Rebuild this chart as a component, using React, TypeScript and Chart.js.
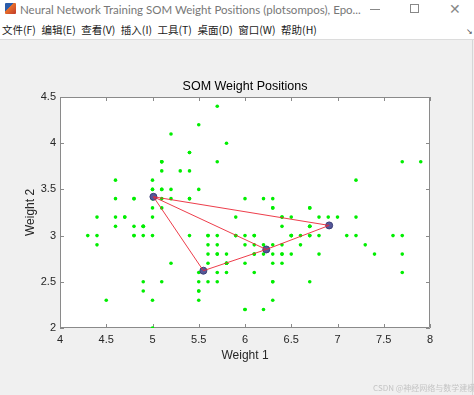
import React, { useEffect, useRef } from "react";
import { Chart, registerables } from "chart.js";

Chart.register(...registerables);

// Input vectors (Weight 1 = sepal length, Weight 2 = sepal width)
const inputW1 = [
  5.1, 4.9, 4.7, 4.6, 5.0, 5.4, 4.6, 5.0, 4.4, 4.9, 5.4, 4.8, 4.8, 4.3, 5.8, 5.7, 5.4, 5.1, 5.7, 5.1,
  5.4, 5.1, 4.6, 5.1, 4.8, 5.0, 5.0, 5.2, 5.2, 4.7, 4.8, 5.4, 5.2, 5.5, 4.9, 5.0, 5.5, 4.9, 4.4, 5.1,
  5.0, 4.5, 4.4, 5.0, 5.1, 4.8, 5.1, 4.6, 5.3, 5.0,
  7.0, 6.4, 6.9, 5.5, 6.5, 5.7, 6.3, 4.9, 6.6, 5.2, 5.0, 5.9, 6.0, 6.1, 5.6, 6.7, 5.6, 5.8, 6.2, 5.6,
  5.9, 6.1, 6.3, 6.1, 6.4, 6.6, 6.8, 6.7, 6.0, 5.7, 5.5, 5.5, 5.8, 6.0, 5.4, 6.0, 6.7, 6.3, 5.6, 5.5,
  5.5, 6.1, 5.8, 5.0, 5.6, 5.7, 5.7, 6.2, 5.1, 5.7,
  6.3, 5.8, 7.1, 6.3, 6.5, 7.6, 4.9, 7.3, 6.7, 7.2, 6.5, 6.4, 6.8, 5.7, 5.8, 6.4, 6.5, 7.7, 7.7, 6.0,
  6.9, 5.6, 7.7, 6.3, 6.7, 7.2, 6.2, 6.1, 6.4, 7.2, 7.4, 7.9, 6.4, 6.3, 6.1, 7.7, 6.3, 6.4, 6.0, 6.9,
  6.7, 6.9, 5.8, 6.8, 6.7, 6.7, 6.3, 6.5, 6.2, 5.9,
];
const inputW2 = [
  3.5, 3.0, 3.2, 3.1, 3.6, 3.9, 3.4, 3.4, 2.9, 3.1, 3.7, 3.4, 3.0, 3.0, 4.0, 4.4, 3.9, 3.5, 3.8, 3.8,
  3.4, 3.7, 3.6, 3.3, 3.4, 3.0, 3.4, 3.5, 3.4, 3.2, 3.1, 3.4, 4.1, 4.2, 3.1, 3.2, 3.5, 3.1, 3.0, 3.4,
  3.5, 2.3, 3.2, 3.5, 3.8, 3.0, 3.8, 3.2, 3.7, 3.3,
  3.2, 3.2, 3.1, 2.3, 2.8, 2.8, 3.3, 2.4, 2.9, 2.7, 2.0, 3.0, 2.2, 2.9, 2.9, 3.1, 3.0, 2.7, 2.2, 2.5,
  3.2, 2.8, 2.5, 2.8, 2.9, 3.0, 2.8, 3.0, 2.9, 2.6, 2.4, 2.4, 2.7, 2.7, 3.0, 3.4, 3.1, 2.3, 3.0, 2.5,
  2.6, 3.0, 2.6, 2.3, 2.7, 3.0, 2.9, 2.9, 2.5, 2.8,
  3.3, 2.7, 3.0, 2.9, 3.0, 3.0, 2.5, 2.9, 2.5, 3.6, 3.2, 2.7, 3.0, 2.5, 2.8, 3.2, 3.0, 3.8, 2.6, 2.2,
  3.2, 2.8, 2.8, 2.7, 3.3, 3.2, 2.8, 3.0, 2.8, 3.0, 2.8, 3.8, 2.8, 2.8, 2.6, 3.0, 3.4, 3.1, 3.0, 3.1,
  3.1, 3.1, 2.7, 3.2, 3.3, 3.0, 2.5, 3.0, 3.4, 3.0,
];

// SOM neuron weights (2x2 hex grid)
const neuronW1 = [5.01, 5.55, 6.23, 6.91];
const neuronW2 = [3.42, 2.62, 2.85, 3.11];
// neighbour connections between neurons
const neuronLinks: [number, number][] = [
  [0, 1],
  [0, 2],
  [0, 3],
  [1, 2],
  [2, 3],
];

const xMin = 4;
const xMax = 8;
const yMin = 2;
const yMax = 4.5;
const tickStep = 0.5;

const chartTitle = "SOM Weight Positions";
const xLabel = "Weight 1";
const yLabel = "Weight 2";
const windowTitle = "Neural Network Training SOM Weight Positions (plotsompos), Epo...";
const menuItems = ["文件(F)", "编辑(E)", "查看(V)", "插入(I)", "工具(T)", "桌面(D)", "窗口(W)", "帮助(H)"];
const watermark = "CSDN @神经网络与数学建模";

const FONT = "'Liberation Sans', Arial, Helvetica, sans-serif";
const AXIS_COLOR = "#8a8a8a";
const TEXT_COLOR = "#262626";

const axesPlugin = {
  id: "matlabAxes",
  beforeDraw(chart: any) {
    const { ctx, chartArea } = chart;
    ctx.save();
    ctx.fillStyle = "#ffffff";
    ctx.fillRect(chartArea.left, chartArea.top, chartArea.right - chartArea.left, chartArea.bottom - chartArea.top);
    ctx.restore();
  },
  beforeDatasetsDraw(chart: any) {
    const { ctx, chartArea, scales } = chart;
    const { left, right, top, bottom } = chartArea;
    ctx.save();
    ctx.strokeStyle = AXIS_COLOR;
    ctx.lineWidth = 1;
    ctx.beginPath();
    ctx.rect(Math.round(left) + 0.5, Math.round(top) + 0.5, Math.round(right - left) - 1, Math.round(bottom - top) - 1);
    ctx.stroke();
    const tl = 4;
    ctx.beginPath();
    scales.x.ticks.forEach((t: any) => {
      const px = Math.round(scales.x.getPixelForValue(t.value)) + 0.5;
      ctx.moveTo(px, bottom);
      ctx.lineTo(px, bottom - tl);
      ctx.moveTo(px, top);
      ctx.lineTo(px, top + tl);
    });
    scales.y.ticks.forEach((t: any) => {
      const py = Math.round(scales.y.getPixelForValue(t.value)) + 0.5;
      ctx.moveTo(left, py);
      ctx.lineTo(left + tl, py);
      ctx.moveTo(right, py);
      ctx.lineTo(right - tl, py);
    });
    ctx.stroke();
    ctx.restore();
  },
  afterDraw(chart: any) {
    const { ctx, chartArea } = chart;
    ctx.save();
    ctx.fillStyle = "#000";
    ctx.font = `12.5px ${FONT}`;
    ctx.textAlign = "center";
    ctx.textBaseline = "middle";
    ctx.fillText(chartTitle, (chartArea.left + chartArea.right) / 2, chartArea.top - 10);
    ctx.restore();
  },
};

const fmt = (v: any) => String(Number(v));

function SomChart() {
  const ref = useRef<HTMLCanvasElement | null>(null);
  useEffect(() => {
    if (!ref.current) return;
    const inputs = inputW1.map((x, i) => ({ x, y: inputW2[i] }));
    const neurons = neuronW1.map((x, i) => ({ x, y: neuronW2[i] }));
    const linkSets = neuronLinks.map(([a, b]) => ({
      type: "line" as const,
      data: [neurons[a], neurons[b]],
      borderColor: "rgba(235,40,55,0.9)",
      borderWidth: 1,
      pointRadius: 0,
      fill: false,
      order: 0,
    }));
    const chart = new Chart(ref.current, {
      type: "scatter",
      data: {
        datasets: [
          ...(linkSets as any[]),
          {
            data: neurons,
            pointRadius: 3.5,
            pointBackgroundColor: "#55589a",
            pointBorderColor: "#3c3f78",
            pointBorderWidth: 1,
            order: 1,
          },
          {
            data: inputs,
            pointRadius: 1.8,
            pointBackgroundColor: "#00ee00",
            pointBorderWidth: 0,
            order: 2,
          },
        ],
      },
      options: {
        animation: false,
        responsive: false,
        devicePixelRatio: 1,
        layout: { padding: { left: 0, right: 44, top: 56, bottom: 0 } },
        plugins: { legend: { display: false }, tooltip: { enabled: false }, title: { display: false } },
        scales: {
          x: {
            type: "linear",
            min: xMin,
            max: xMax,
            grid: { display: false, drawTicks: false },
            border: { display: false },
            ticks: { stepSize: tickStep, padding: 5, color: TEXT_COLOR, font: { family: FONT, size: 11 }, callback: fmt },
            title: { display: true, text: xLabel, color: TEXT_COLOR, font: { family: FONT, size: 12 }, padding: { top: 0, bottom: 32 } },
            afterFit: (s: any) => {
              s.height = 67;
            },
          },
          y: {
            type: "linear",
            min: yMin,
            max: yMax,
            grid: { display: false, drawTicks: false },
            border: { display: false },
            ticks: { stepSize: tickStep, padding: 4, color: TEXT_COLOR, font: { family: FONT, size: 11 }, callback: fmt },
            title: { display: true, text: yLabel, color: TEXT_COLOR, font: { family: FONT, size: 12 }, padding: { top: 23, bottom: 0 } },
            afterFit: (s: any) => {
              s.width = 60;
            },
          },
        },
      },
      plugins: [axesPlugin],
    });
    return () => chart.destroy();
  }, []);
  return <canvas ref={ref} width={474} height={354} style={{ position: "absolute", left: 0, top: 41, display: "block" }} />;
}

export default function App() {
  return (
    <div
      style={{
        position: "fixed",
        left: 0,
        top: 0,
        width: 474,
        height: 395,
        background: "#f0f0f0",
        overflow: "hidden",
        fontFamily: "'Noto Sans', sans-serif",
      }}
    >
      {/* title bar */}
      <div style={{ position: "absolute", left: 0, top: 0, width: 474, height: 20, background: "#fff" }}>
        <div
          style={{
            position: "absolute",
            left: 5,
            top: 3,
            width: 11,
            height: 11,
            background: "linear-gradient(135deg, #2a5caa 0%, #2a5caa 40%, #e8702a 41%, #c0392b 100%)",
            borderRadius: 1,
          }}
        />
        <div
          style={{
            position: "absolute",
            left: 20,
            top: 1,
            fontFamily: "Lato, 'Noto Sans', sans-serif",
            fontSize: 11.5,
            lineHeight: "17px",
            color: "#777",
            whiteSpace: "nowrap",
          }}
        >
          {windowTitle}
        </div>
        <div style={{ position: "absolute", left: 370, top: 9, width: 10, height: 1, background: "#888" }} />
        <div style={{ position: "absolute", left: 410, top: 4, width: 9, height: 9, border: "1px solid #888", boxSizing: "border-box" }} />
        <div style={{ position: "absolute", left: 449, top: -1, fontSize: 14, lineHeight: "20px", color: "#888" }}>✕</div>
      </div>
      {/* menu bar */}
      <div
        style={{
          position: "absolute",
          left: 0,
          top: 20,
          width: 474,
          height: 20,
          background: "#fff",
          borderBottom: "1px solid #dcdcdc",
          boxSizing: "border-box",
        }}
      >
        <div
          style={{
            position: "absolute",
            left: 2,
            top: 2,
            fontFamily: "'Noto Sans CJK SC', sans-serif",
            fontSize: 10.5,
            lineHeight: "16px",
            color: "#1a1a1a",
            whiteSpace: "nowrap",
          }}
        >
          {menuItems.map((m, i) => (
            <span key={i} style={{ marginRight: 5.5 }}>
              {m}
            </span>
          ))}
        </div>
        <div style={{ position: "absolute", left: 466, top: 5, fontSize: 8, color: "#444" }}>↘</div>
      </div>
      <div style={{ position: "absolute", left: 472, top: 40, width: 1, height: 355, background: "#d6d6d6" }} />
      <SomChart />
      <div
        style={{
          position: "absolute",
          left: 373,
          top: 382,
          fontFamily: "'Noto Sans CJK SC', sans-serif",
          fontSize: 8,
          lineHeight: "12px",
          color: "#c4c4c4",
          whiteSpace: "nowrap",
        }}
      >
        {watermark}
      </div>
    </div>
  );
}
